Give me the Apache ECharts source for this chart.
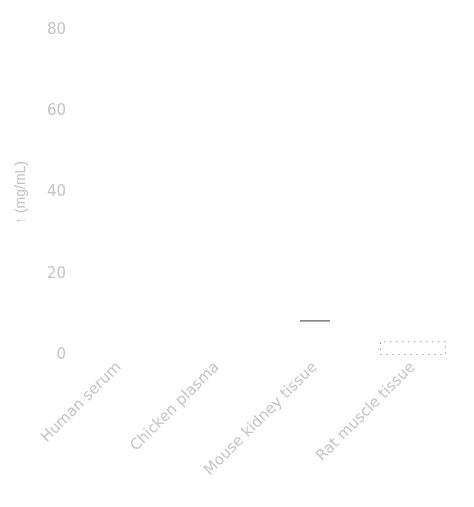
<!DOCTYPE html>
<html>
<head>
<meta charset="utf-8">
<script src="https://cdn.jsdelivr.net/npm/echarts@6/dist/echarts.min.js"></script>
<style>html,body{margin:0;padding:0;background:#fff}#main{width:474px;height:507px}</style>
</head>
<body>
<div id="main"></div>
<script>
'use strict'
// faint chart: only a line at mouse kidney and a dotted box at rat muscle

var categories = ['Human serum', 'Chicken plasma', 'Mouse kidney tissue', 'Rat muscle tissue'];
var lineValues = [null, null, 8.4, null];
var boxValues = [null, null, null, 3.4];
var yTicks = [0, 20, 40, 60, 80];

var faint = '#c4c4c4';

var option = {
    animation: false,
    grid: { left: 70, right: 12, top: 30, bottom: 152 },
    xAxis: {
        type: 'category',
        data: categories,
        axisLine: { show: false },
        axisTick: { show: false },
        axisLabel: { rotate: 45, color: faint, fontSize: 15, fontFamily: 'DejaVu Sans', margin: 10 }
    },
    yAxis: {
        type: 'value',
        min: yTicks[0],
        max: yTicks[yTicks.length - 1],
        interval: 20,
        name: '\u2191 (mg/mL)',
        nameLocation: 'middle',
        nameGap: 42,
        nameTextStyle: { color: faint, fontSize: 14 },
        axisLine: { show: false },
        axisTick: { show: false },
        splitLine: { show: false },
        axisLabel: { color: faint, fontSize: 15, fontFamily: 'DejaVu Sans', margin: 4 }
    },
    series: [
        {
            type: 'scatter',
            data: lineValues,
            symbol: 'rect',
            symbolSize: [30, 1.5],
            itemStyle: { color: '#555' }
        },
        {
            type: 'bar',
            data: boxValues,
            barWidth: 66,
            itemStyle: { color: 'transparent', borderColor: '#777', borderWidth: 1, borderType: [1, 5] }
        }
    ]
};

var myChart = echarts.init(document.getElementById('main'));
myChart.setOption(option);
</script>
</body>
</html>
